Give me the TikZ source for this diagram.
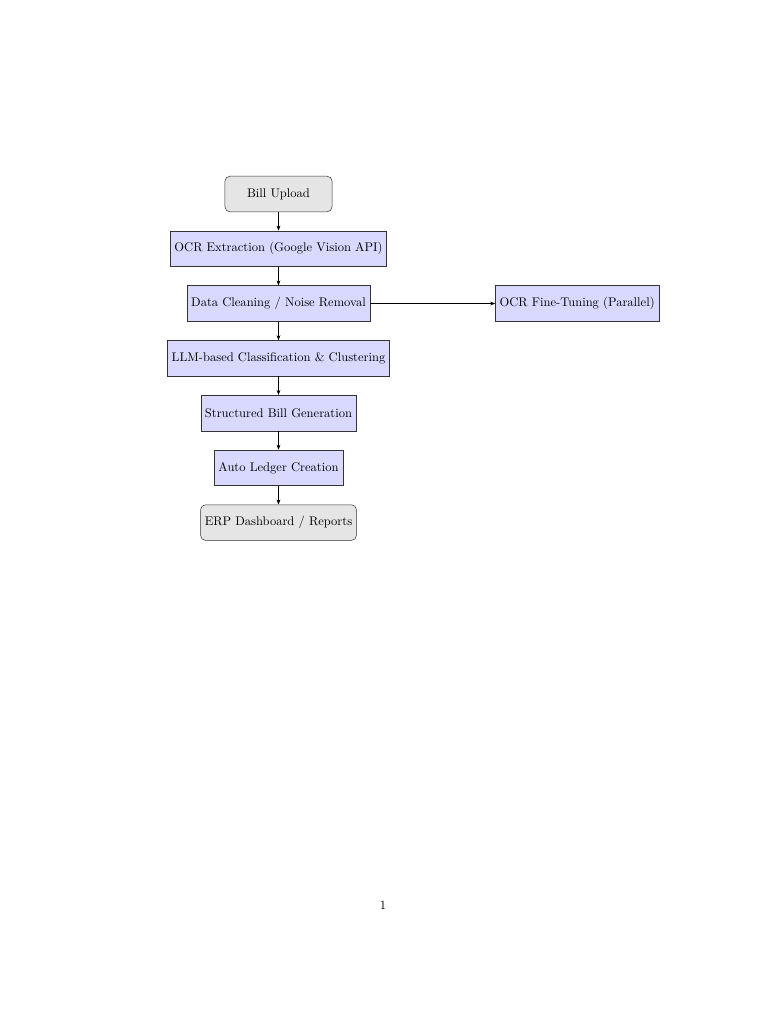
\documentclass[tikz,border=0pt]{standalone}
\usepackage{amsmath, amssymb}
\usepackage[dvipsnames]{xcolor}
\usepackage{tikz}
\usetikzlibrary{positioning, arrows.meta}

\begin{document}
\begin{tikzpicture}[x=0.797pt, y=-0.797pt, node distance=5.2mm,
    procbox/.style={draw=black!80, fill=blue!15, minimum height=1cm},
    endbox/.style={draw=black!80, fill=gray!20, rounded corners, minimum height=1cm},
    flow/.style={-{Stealth[length=4pt, width=3pt]}, thin}]
  \useasboundingbox (0,0) rectangle (768,1024);
  \node[endbox, minimum width=3cm] (upload) at (278.5,194) {Bill Upload};
  \node[procbox, below=of upload] (ocr) {OCR Extraction (Google Vision API)};
  \node[procbox, below=of ocr] (clean) {Data Cleaning / Noise Removal};
  \node[procbox, right=3.5cm of clean] (tune) {OCR Fine-Tuning (Parallel)};
  \node[procbox, below=of clean] (llm) {LLM-based Classification \& Clustering};
  \node[procbox, below=of llm] (struct) {Structured Bill Generation};
  \node[procbox, below=of struct] (ledger) {Auto Ledger Creation};
  \node[endbox, below=of ledger] (erp) {ERP Dashboard / Reports};
  \draw[flow] (upload) -- (ocr);
  \draw[flow] (ocr) -- (clean);
  \draw[flow] (clean) -- (llm);
  \draw[flow] (clean) -- (tune);
  \draw[flow] (llm) -- (struct);
  \draw[flow] (struct) -- (ledger);
  \draw[flow] (ledger) -- (erp);
  \node (pagenum) at (383,905) {1};
\end{tikzpicture}
\end{document}
